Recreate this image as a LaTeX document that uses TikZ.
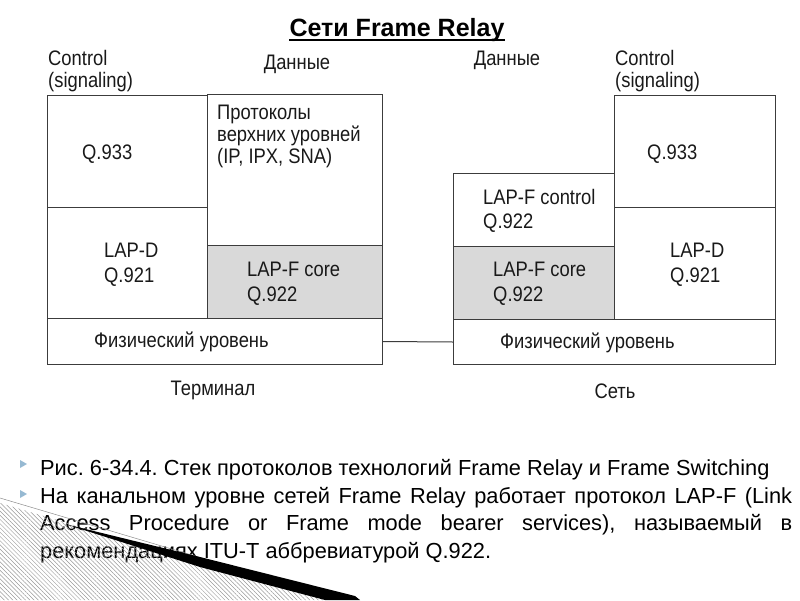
\documentclass[tikz,border=0pt]{standalone}
\usepackage{fontspec}
\setmainfont{Liberation Sans}
\newfontfamily\diagfont{Liberation Sans}[FakeStretch=0.875]
\usetikzlibrary{patterns.meta}
\frenchspacing
\definecolor{edge}{RGB}{60,60,60}
\definecolor{coregray}{RGB}{217,217,217}
\definecolor{bulletblue}{RGB}{150,185,210}
\definecolor{ink}{RGB}{25,25,25}
\tikzset{
  layer/.style={draw=edge, line width=1pt, anchor=north west, inner sep=0pt},
  corelayer/.style={layer, fill=coregray},
  txt/.style={anchor=west, inner sep=0pt, align=left, text=ink, font=\diagfont\fontsize{21}{24.5}\selectfont},
  hdr/.style={txt, font=\diagfont\fontsize{21}{22}\selectfont},
  body/.style={anchor=base west, inner sep=0pt, text=black, font=\fontsize{21.8}{27.5}\selectfont},
}
\begin{document}
\begin{tikzpicture}[x=1pt,y=-1pt]
\useasboundingbox (0,0) rectangle (800,600);
% title
\node[inner sep=0pt, anchor=base, font=\fontsize{25}{28}\bfseries\selectfont] (title) at (397,36) {Сети Frame Relay};
\draw[line width=2.2pt] ([yshift=-4pt]title.base west) -- ([yshift=-4pt]title.base east);

% terminal stack
\node[layer, minimum width=160, minimum height=112] (q933L) at (47,95) {};
\node[layer, minimum width=175, minimum height=151] (upperL) at (207,94) {};
\node[layer, minimum width=160, minimum height=111] (lapdL) at (47,207) {};
\node[corelayer, minimum width=175, minimum height=73] (coreL) at (207,245) {};
\node[layer, minimum width=335, minimum height=46] (phyL) at (47,318) {};

% network stack
\node[layer, minimum width=161, minimum height=73] (ctrlR) at (453,173) {};
\node[corelayer, minimum width=161, minimum height=73] (coreR) at (453,246) {};
\node[layer, minimum width=161, minimum height=112] (q933R) at (614,95) {};
\node[layer, minimum width=161, minimum height=112] (lapdR) at (614,207) {};
\node[layer, minimum width=322, minimum height=45] (phyR) at (453,319) {};

\draw[draw=edge, line width=1pt] (phyL.east) -- (phyR.west);

% labels
\node[hdr] (sigL) at (48,71) {Control\\(signaling)};
\node[hdr, anchor=center] (datL) at (297,64) {Данные};
\node[hdr, anchor=center] (datR) at (507,60) {Данные};
\node[hdr] (sigR) at (615,71) {Control\\(signaling)};
\node[txt] (q933Ltxt) at (82,154) {Q.933};
\node[txt, font=\diagfont\fontsize{21}{22}\selectfont] (upperLtxt) at (217,136) {Протоколы\\верхних уровней\\(IP, IPX, SNA)};
\node[txt] (lapdLtxt) at (104,265) {LAP-D\\Q.921};
\node[txt] (coreLtxt) at (247,284) {LAP-F core\\Q.922};
\node[txt] (phyLtxt) at (94,342) {Физический уровень};
\node[txt, anchor=center] (term) at (213,390) {Терминал};
\node[txt] (ctrlRtxt) at (483,211) {LAP-F control\\Q.922};
\node[txt] (coreRtxt) at (493,284) {LAP-F core\\Q.922};
\node[txt] (q933Rtxt) at (647,154) {Q.933};
\node[txt] (lapdRtxt) at (670,265) {LAP-D\\Q.921};
\node[txt] (phyRtxt) at (500,343) {Физический уровень};
\node[txt, anchor=center] (net) at (615,391) {Сеть};

% slide text
\fill[bulletblue] (20,460) -- (27,464) -- (20,468) -- cycle;
\fill[bulletblue] (20,490) -- (27,494) -- (20,498) -- cycle;
\node[body] (cap) at (40,475) {Рис. 6-34.4. Стек протоколов технологий Frame Relay и Frame Switching};
\node[body, text width=752pt, align=justify] (para) at (40,503)
  {На канальном уровне сетей Frame Relay работает протокол LAP-F (Link\linebreak
   Access Procedure or Frame mode bearer services), называемый в\linebreak
   рекомендациях ITU-T аббревиатурой Q.922.};

% corner decoration
\fill[pattern={Lines[angle=-45, distance=3pt, line width=0.5pt]}, pattern color=black!40]
  (0,503) -- (325,600) -- (0,600) -- cycle;
\draw[black!45, line width=0.5pt] (0,498) -- (340,599);
\fill[black] (65,524) -- (200,557) -- (355,596) -- (360,600) -- (325,600) -- (200,567) -- cycle;
\end{tikzpicture}
\end{document}
